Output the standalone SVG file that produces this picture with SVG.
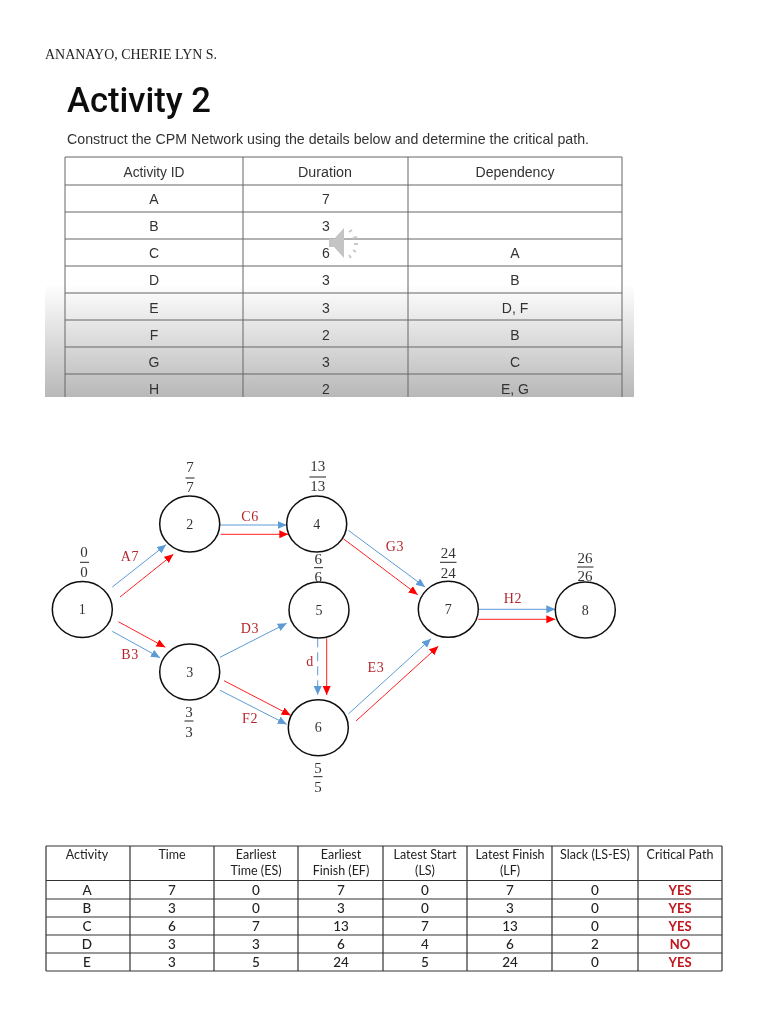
<svg xmlns="http://www.w3.org/2000/svg" width="768" height="1024" viewBox="0 0 768 1024">
<style>
.ser{font-family:"Liberation Serif","Times New Roman",serif}
.sh{font-family:"Liberation Sans",Arial,sans-serif;fill:#333;font-size:14px;text-anchor:middle}
.t{font-family:Lato,"Liberation Sans",sans-serif;fill:#222;font-size:12.5px;text-anchor:middle}
.d{font-size:13.5px;font-weight:500}
.y{font-weight:bold;fill:#c0141c;font-size:13px}
.n{fill:#fff;stroke:#111;stroke-width:1.5}
.nl{font-family:"Liberation Serif",serif;font-size:14px;fill:#333;text-anchor:middle}
.fr{font-family:"Liberation Serif",serif;font-size:15px;fill:#333;text-anchor:middle}
.fl{stroke:#222;stroke-width:1}
.lab{font-family:"Liberation Serif",serif;font-size:14px;fill:#b5282e;text-anchor:middle;letter-spacing:.6px}
.bl{stroke:#5b9bd5;stroke-width:1;fill:none;marker-end:url(#ab)}
.rd{stroke:#f22;stroke-width:1;fill:none;marker-end:url(#ar)}
.tl{stroke:#666;stroke-width:1}
.bt{stroke:#333;stroke-width:1.2}
</style>
<defs>
<marker id="ab" markerUnits="userSpaceOnUse" markerWidth="11" markerHeight="10" refX="9" refY="4" orient="auto"><path d="M0 0L9 4L0 8Z" fill="#5b9bd5"/></marker>
<marker id="ar" markerUnits="userSpaceOnUse" markerWidth="11" markerHeight="10" refX="9" refY="4" orient="auto"><path d="M0 0L9 4L0 8Z" fill="#f00"/></marker>
<linearGradient id="fade" x1="0" y1="0" x2="0" y2="1"><stop offset="0" stop-color="#fff"/><stop offset="1" stop-color="#b8b8b8"/></linearGradient>
<filter id="soft" x="-2%" y="-2%" width="104%" height="104%"><feGaussianBlur stdDeviation="0.5"/></filter>
<filter id="soft2" x="-2%" y="-2%" width="104%" height="104%"><feGaussianBlur stdDeviation="0.3"/></filter>
<clipPath id="shot"><rect x="45" y="80" width="589" height="317"/></clipPath>
</defs>
<rect width="768" height="1024" fill="#fff"/>
<text class="ser" x="45" y="59" font-size="14" fill="#222" textLength="172" lengthAdjust="spacingAndGlyphs" filter="url(#soft2)">ANANAYO, CHERIE LYN S.</text>

<g id="assignment" filter="url(#soft)" clip-path="url(#shot)">
<rect x="45" y="284" width="589" height="113" fill="url(#fade)"/>
<text x="67" y="112" font-family="Roboto,'Liberation Sans',sans-serif" font-weight="500" font-size="35" fill="#111" textLength="144" lengthAdjust="spacingAndGlyphs">Activity 2</text>
<text x="67" y="144" font-family="'Liberation Sans',sans-serif" font-size="14.5" fill="#333" textLength="522" lengthAdjust="spacingAndGlyphs">Construct the CPM Network using the details below and determine the critical path.</text>
<g class="tl">
<path d="M65 157H622M65 185H622M65 212H622M65 239H622M65 266H622M65 293H622M65 320H622M65 347H622M65 374H622M65 157V397M243 157V397M408 157V397M622 157V397" fill="none"/>
</g>
<g>
<text class="sh" x="154" y="177" textLength="61" lengthAdjust="spacingAndGlyphs">Activity ID</text><text class="sh" x="325" y="177" textLength="54" lengthAdjust="spacingAndGlyphs">Duration</text><text class="sh" x="515" y="177" textLength="79" lengthAdjust="spacingAndGlyphs">Dependency</text>
<text class="sh" x="154" y="204">A</text><text class="sh" x="326" y="204">7</text>
<text class="sh" x="154" y="231">B</text><text class="sh" x="326" y="231">3</text>
<text class="sh" x="154" y="258">C</text><text class="sh" x="326" y="258">6</text><text class="sh" x="515" y="258">A</text>
<text class="sh" x="154" y="285">D</text><text class="sh" x="326" y="285">3</text><text class="sh" x="515" y="285">B</text>
<text class="sh" x="154" y="313">E</text><text class="sh" x="326" y="313">3</text><text class="sh" x="515" y="313">D, F</text>
<text class="sh" x="154" y="340">F</text><text class="sh" x="326" y="340">2</text><text class="sh" x="515" y="340">B</text>
<text class="sh" x="154" y="367">G</text><text class="sh" x="326" y="367">3</text><text class="sh" x="515" y="367">C</text>
<text class="sh" x="154" y="394">H</text><text class="sh" x="326" y="394">2</text><text class="sh" x="515" y="394">E, G</text>
</g>
<g id="speaker" fill="#c4c4c4">
<path d="M329 239h5l10-11v30l-10-11h-5Z"/>
<path d="M349 232l3-2M353 238l4-1M354 244h4M353 250l3 2M349 255l2 3" stroke="#c8c8c8" stroke-width="2" fill="none"/>
</g>
</g>

<g filter="url(#soft2)">
<g id="connectors">
<line class="bl" x1="112.3" y1="587" x2="166" y2="544.7"/>
<line class="rd" x1="120" y1="597" x2="173.3" y2="554.3"/>
<line class="bl" x1="220" y1="525" x2="286.7" y2="525"/>
<line class="rd" x1="220.7" y1="534.3" x2="288.3" y2="534.3"/>
<line class="rd" x1="118.3" y1="621.7" x2="165.3" y2="647.3"/>
<line class="bl" x1="112.3" y1="631.3" x2="160" y2="657.7"/>
<line class="bl" x1="220" y1="657.3" x2="286.7" y2="623.3"/>
<line class="rd" x1="224" y1="680.7" x2="290.7" y2="715.3"/>
<line class="bl" x1="220" y1="690.3" x2="286.7" y2="724.3"/>
<line class="bl" x1="317.7" y1="638.3" x2="317.7" y2="695" stroke-dasharray="9 5"/>
<line class="rd" x1="326.7" y1="638.3" x2="326.7" y2="695"/>
<line class="bl" x1="348.3" y1="530.3" x2="425" y2="587"/>
<line class="rd" x1="343.3" y1="538.7" x2="417.7" y2="594.7"/>
<line class="bl" x1="348.3" y1="714" x2="431" y2="638.7"/>
<line class="rd" x1="356" y1="721" x2="438.3" y2="646.3"/>
<line class="bl" x1="479" y1="609.3" x2="555.3" y2="609.3"/>
<line class="rd" x1="478.3" y1="619.3" x2="555.3" y2="619.3"/>
</g>
<g id="edge-labels">
<text class="lab" x="130" y="560.5">A7</text>
<text class="lab" x="250" y="520.5">C6</text>
<text class="lab" x="130" y="658.5">B3</text>
<text class="lab" x="250" y="632.5">D3</text>
<text class="lab" x="250" y="722.5">F2</text>
<text class="lab" x="310" y="665.5">d</text>
<text class="lab" x="395" y="550.5">G3</text>
<text class="lab" x="376" y="671.5">E3</text>
<text class="lab" x="513" y="602.5">H2</text>
</g>

<g id="node1"><ellipse class="n" cx="82.3" cy="609.5" rx="30" ry="28" fill-opacity="0"/><text class="nl" x="82.3" y="614">1</text><text class="fr" x="84" y="557">0</text><line class="fl" x1="80" x2="89" y1="562.3" y2="562.3"/><text class="fr" x="84" y="577">0</text></g>
<g id="node2"><ellipse class="n" cx="189.7" cy="524" rx="30" ry="28"/><text class="nl" x="189.7" y="528.5">2</text><text class="fr" x="190" y="472">7</text><line class="fl" x1="185.5" x2="194.5" y1="478" y2="478"/><text class="fr" x="190" y="492">7</text></g>
<g id="node4"><ellipse class="n" cx="316.7" cy="524" rx="30" ry="28"/><text class="nl" x="316.7" y="528.5">4</text><text class="fr" x="317.7" y="471">13</text><line class="fl" x1="309.5" x2="326" y1="477" y2="477"/><text class="fr" x="317.7" y="491">13</text></g>
<g id="node5"><ellipse class="n" cx="319" cy="610" rx="30" ry="28"/><text class="nl" x="319" y="614.5">5</text><text class="fr" x="318.3" y="563.5">6</text><line class="fl" x1="314" x2="323" y1="567.7" y2="567.7"/><text class="fr" x="318.3" y="582">6</text></g>
<g id="node3"><ellipse class="n" cx="189.7" cy="672" rx="30" ry="28"/><text class="nl" x="189.7" y="676.5">3</text><text class="fr" x="189" y="717">3</text><line class="fl" x1="184.5" x2="193.5" y1="721" y2="721"/><text class="fr" x="189" y="736.5">3</text></g>
<g id="node6"><ellipse class="n" cx="318.3" cy="727.7" rx="30" ry="28"/><text class="nl" x="318.3" y="732.2">6</text><text class="fr" x="318" y="773">5</text><line class="fl" x1="313.5" x2="322.5" y1="776.7" y2="776.7"/><text class="fr" x="318" y="792">5</text></g>
<g id="node7"><ellipse class="n" cx="448.3" cy="609.3" rx="30" ry="28"/><text class="nl" x="448.3" y="613.8">7</text><text class="fr" x="448.3" y="557.5">24</text><line class="fl" x1="440" x2="456.5" y1="562.3" y2="562.3"/><text class="fr" x="448.3" y="577.5">24</text></g>
<g id="node8"><ellipse class="n" cx="585.3" cy="610" rx="30" ry="28"/><text class="nl" x="585.3" y="614.5">8</text><text class="fr" x="585" y="562.5">26</text><line class="fl" x1="577" x2="593.5" y1="567" y2="567"/><text class="fr" x="585" y="581">26</text></g>
</g>

<g id="results" filter="url(#soft2)">
<path class="bt" fill="none" d="M46 846H722M46 880.5H722M46 899H722M46 917H722M46 935H722M46 953H722M46 971H722"/>
<path class="bt" fill="none" d="M46 846V971M130 846V971M214 846V971M298 846V971M383 846V971M467 846V971M552 846V971M638 846V971M722 846V971"/>
<g>
<text class="t" x="87" y="859">Activity</text><text class="t" x="172" y="859">Time</text><text class="t" x="256" y="859">Earliest</text><text class="t" x="341" y="859">Earliest</text><text class="t" x="425" y="859">Latest Start</text><text class="t" x="510" y="859">Latest Finish</text><text class="t" x="595" y="859">Slack (LS-ES)</text><text class="t" x="680" y="859">Critical Path</text>
<text class="t" x="256" y="875">Time (ES)</text><text class="t" x="341" y="875">Finish (EF)</text><text class="t" x="425" y="875">(LS)</text><text class="t" x="510" y="875">(LF)</text>
</g>
<g>
<text class="t d" x="87" y="895">A</text><text class="t d" x="172" y="895">7</text><text class="t d" x="256" y="895">0</text><text class="t d" x="341" y="895">7</text><text class="t d" x="425" y="895">0</text><text class="t d" x="510" y="895">7</text><text class="t d" x="595" y="895">0</text><text class="t y" x="680" y="895">YES</text>
<text class="t d" x="87" y="913">B</text><text class="t d" x="172" y="913">3</text><text class="t d" x="256" y="913">0</text><text class="t d" x="341" y="913">3</text><text class="t d" x="425" y="913">0</text><text class="t d" x="510" y="913">3</text><text class="t d" x="595" y="913">0</text><text class="t y" x="680" y="913">YES</text>
<text class="t d" x="87" y="931">C</text><text class="t d" x="172" y="931">6</text><text class="t d" x="256" y="931">7</text><text class="t d" x="341" y="931">13</text><text class="t d" x="425" y="931">7</text><text class="t d" x="510" y="931">13</text><text class="t d" x="595" y="931">0</text><text class="t y" x="680" y="931">YES</text>
<text class="t d" x="87" y="949">D</text><text class="t d" x="172" y="949">3</text><text class="t d" x="256" y="949">3</text><text class="t d" x="341" y="949">6</text><text class="t d" x="425" y="949">4</text><text class="t d" x="510" y="949">6</text><text class="t d" x="595" y="949">2</text><text class="t y" x="680" y="949">NO</text>
<text class="t d" x="87" y="967">E</text><text class="t d" x="172" y="967">3</text><text class="t d" x="256" y="967">5</text><text class="t d" x="341" y="967">24</text><text class="t d" x="425" y="967">5</text><text class="t d" x="510" y="967">24</text><text class="t d" x="595" y="967">0</text><text class="t y" x="680" y="967">YES</text>
</g>
</g>
</svg>
